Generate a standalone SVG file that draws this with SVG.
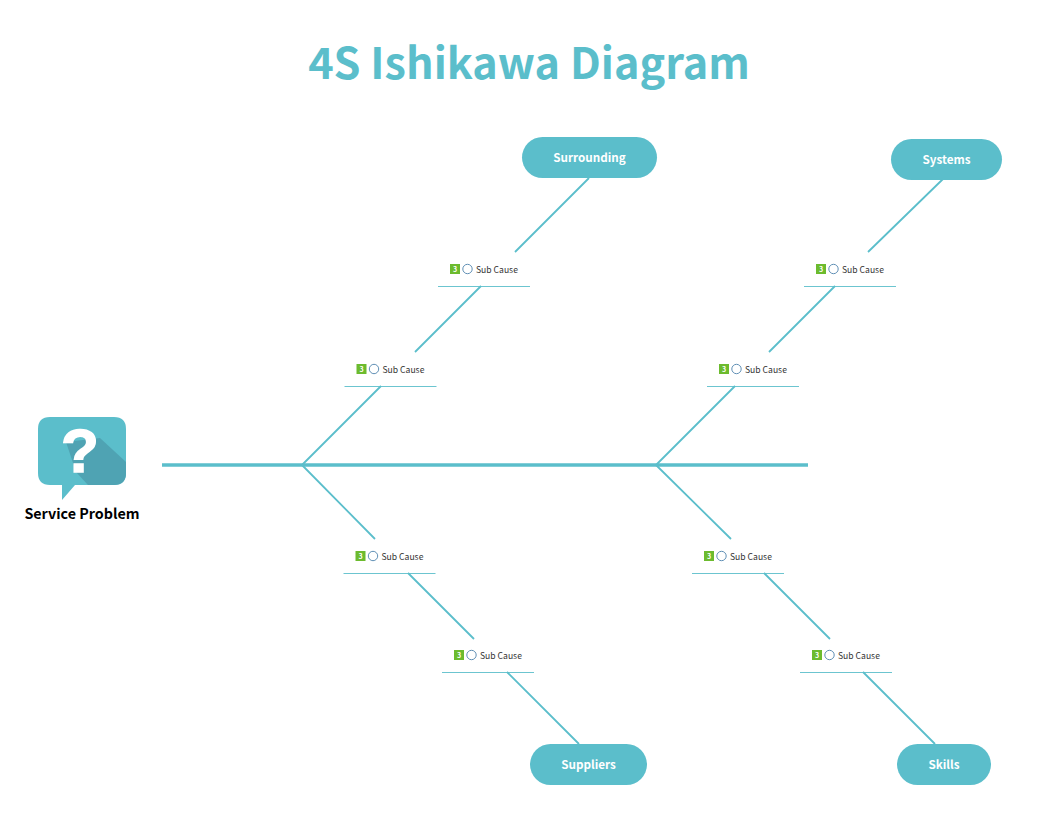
<svg xmlns="http://www.w3.org/2000/svg" width="1059" height="820" viewBox="0 0 1059 820">
<style>
text{font-family:"Noto Sans CJK SC","Noto Sans",sans-serif}
.title{font-size:43.2px;font-weight:700;fill:#5bbecb;text-anchor:middle}
.pill{fill:#5bbecb}
.plabel{font-size:11.700px;font-weight:700;fill:#fff;text-anchor:middle}
.bone{stroke:#5bbecb;stroke-width:1.800;fill:none}
.spine{stroke:#5bbecb;stroke-width:3.500;fill:none}
.under{stroke:#5bbecb;stroke-width:0.900;fill:none}
.badge{fill:#6cbb2e}
.bnum{font-size:7px;font-weight:700;fill:#fff;text-anchor:middle}
.ring{fill:#fff;stroke:#5f8fb5;stroke-width:1}
.sub{font-size:8.600px;fill:#333}
</style>
<rect width="1059" height="820" fill="#fff"/>
<text id="title" class="title" x="529" y="79">4S Ishikawa Diagram</text>
<g id="connectors">
<path class="spine" d="M162 465H808"/>
<path class="bone" d="M589 178L515 252M481 286L415 352M381 386L302 465"/>
<path class="bone" d="M943 179L868 252M835 286L769 352M735 386L656 465"/>
<path class="bone" d="M302 465L375 539M408 573L474 639M507 672L579 744"/>
<path class="bone" d="M656 465L731 539M764 573L830 639M863 672L935 744"/>
</g>
<g id="problem">
<path d="M50 417H114Q126 417 126 429V473Q126 485 114 485H75L62 500V485H50Q38 485 38 473V429Q38 417 50 417Z" fill="#5bbecb"/>
<path d="M100 438L126 462V473Q126 485 114 485H88L76 472L66 442Z" fill="#4fa3b3"/>
<text x="80" y="472" font-size="62" font-weight="700" fill="#fff" stroke="#fff" stroke-width="1.500" text-anchor="middle" style="font-family:'Liberation Sans',sans-serif">?</text>
<text x="82" y="519" font-size="14.300" font-weight="700" fill="#000" text-anchor="middle">Service Problem</text>
</g>
<g id="surrounding"><rect class="pill" x="522" y="137" width="135" height="41" rx="20.500"/><text class="plabel" x="589.500" y="162">Surrounding</text></g>
<g id="systems"><rect class="pill" x="891" y="139" width="111" height="41" rx="20.500"/><text class="plabel" x="946.500" y="164">Systems</text></g>
<g id="suppliers"><rect class="pill" x="530" y="744" width="117" height="41" rx="20.500"/><text class="plabel" x="588.500" y="769">Suppliers</text></g>
<g id="skills"><rect class="pill" x="897" y="744" width="94" height="41" rx="20.500"/><text class="plabel" x="944" y="769">Skills</text></g>
<defs>
<g id="item">
<rect class="badge" x="0" y="-5" width="10" height="10"/>
<text class="bnum" x="5" y="2.500">3</text>
<circle class="ring" cx="17.500" cy="0" r="4.700"/>
<text class="sub" x="26" y="4">Sub Cause</text>
<path class="under" d="M-12 17.500H80"/>
</g>
</defs>
<g id="sub1"><use href="#item" x="450" y="269"/></g>
<g id="sub2"><use href="#item" x="356.500" y="369"/></g>
<g id="sub3"><use href="#item" x="816" y="269"/></g>
<g id="sub4"><use href="#item" x="719" y="369"/></g>
<g id="sub5"><use href="#item" x="355.500" y="556"/></g>
<g id="sub6"><use href="#item" x="454" y="655"/></g>
<g id="sub7"><use href="#item" x="704" y="556"/></g>
<g id="sub8"><use href="#item" x="812" y="655"/></g>
</svg>
